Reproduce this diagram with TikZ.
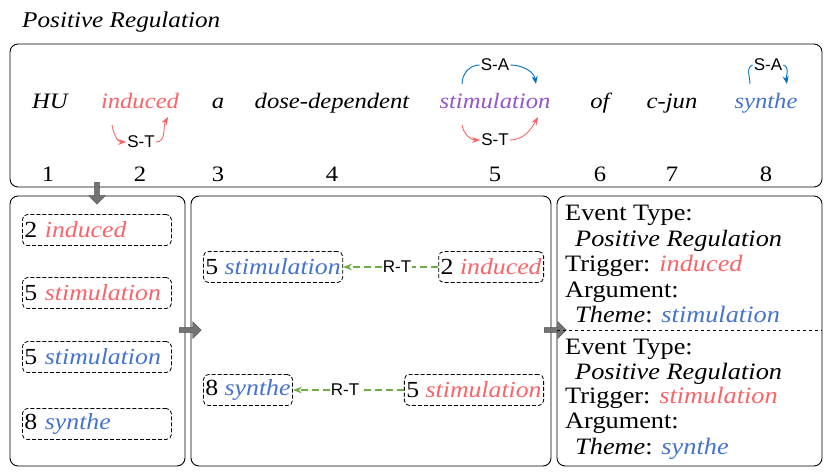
\documentclass[tikz,border=0pt]{standalone}
\usepackage{fontspec}
\setmainfont{Liberation Serif}[FakeStretch=1.12]
\newfontfamily\lblfont{Liberation Sans}
\usetikzlibrary{shapes.arrows,arrows.meta}
\definecolor{trig}{RGB}{250,100,105}
\definecolor{arg}{RGB}{70,115,205}
\definecolor{both}{RGB}{150,85,200}
\definecolor{sa}{RGB}{0,112,192}
\definecolor{rt}{RGB}{112,173,71}
\tikzset{
  panel/.style={draw, rounded corners=8pt, line width=0.9pt},
  word/.style={font=\fontsize{22}{24}\selectfont\itshape, anchor=base},
  num/.style={font=\fontsize{22}{24}\selectfont, anchor=base},
  lbl/.style={font=\lblfont\fontsize{17}{19}\selectfont, inner sep=1pt},
  tok/.style={draw, dash pattern=on 4pt off 2pt, rounded corners=5pt, minimum height=31pt,
    inner sep=2pt, line width=0.8pt, font=\fontsize{23}{26}\selectfont, anchor=west},
  info/.style={font=\fontsize{23.5}{27}\selectfont, anchor=base west, inner sep=0pt},
  blk/.style={single arrow, draw=black!70, fill=black!55, minimum height=22pt,
    minimum width=17pt, single arrow head extend=3pt, inner sep=1pt},
  st/.style={trig, line width=0.9pt, -{Stealth[length=8pt]}},
  sarr/.style={sa, line width=0.9pt, -{Stealth[length=8pt]}},
  rtline/.style={rt, dash pattern=on 7pt off 4pt, line width=1.1pt},
  rtarr/.style={rtline, -{Stealth[length=9pt]}}
}
\begin{document}
\begin{tikzpicture}[x=1pt,y=-1pt]
\useasboundingbox (0,0) rectangle (829,476);
\node[font=\fontsize{22.5}{25}\selectfont\itshape, anchor=base west, inner sep=0pt] (title) at (22,28) {Positive Regulation};
% panels
\draw[panel] (10,44) rectangle (822,187);
\draw[panel] (10,196) rectangle (185,466);
\draw[panel] (191,196) rectangle (551,466);
\draw[panel] (557,196) rectangle (822,466);
% sentence
\node[word] (w1) at (50,109) {HU};
\node[word, text=trig] (w2) at (140,109) {induced};
\node[word] (w3) at (218,109) {a};
\node[word] (w4) at (332,109) {dose-dependent};
\node[word, text=both] (w5) at (495,109) {stimulation};
\node[word] (w6) at (600,109) {of};
\node[word] (w7) at (672,109) {c-jun};
\node[word, text=arg] (w8) at (766,109) {synthe};
\foreach \i/\x in {1/48,2/140,3/218,4/332,5/495,6/600,7/672,8/766}
  \node[num] (n\i) at (\x,181) {\i};
% relations
\node[lbl] (st1) at (141,142) {S-T};
\draw[st] (112,125) to[out=-80,in=180] (st1.west);
\draw[st] (st1.east) to[out=0,in=-120] (168,117);
\node[lbl] (st2) at (495,140) {S-T};
\draw[st] (462,125) to[out=-80,in=180] (st2.west);
\draw[st] (st2.east) to[out=0,in=-120] (538,117);
\node[lbl] (sa1) at (495,65) {S-A};
\draw[sa, line width=0.9pt] (462,84) to[out=90,in=180] (sa1.west);
\draw[sarr] (sa1.east) to[out=0,in=100] (536,84);
\node[lbl] (sa2) at (768,65) {S-A};
\draw[sa, line width=0.9pt] (750,84) to[out=90,in=200] (sa2.west);
\draw[sarr] (sa2.east) to[out=-20,in=100] (787,84);
% gray block arrows
\node[blk, rotate=-90] (down) at (97,192) {};
\node[blk] (r1) at (189,330) {};
\node[blk] (r2) at (554,330) {};
% candidate tokens
\node[tok, text width=145pt, align=left] (c1) at (22,230) {2 \textit{\color{trig}induced}};
\node[tok, text width=145pt, align=left] (c2) at (22,293) {5 \textit{\color{trig}stimulation}};
\node[tok, text width=145pt, align=left] (c3) at (22,357) {5 \textit{\color{arg}stimulation}};
\node[tok, text width=145pt, align=left] (c4) at (22,424) {8 \textit{\color{arg}synthe}};
% pairs
\node[tok] (p1a) at (203,267) {5 \textit{\color{arg}stimulation}};
\node[tok, anchor=east] (p1b) at (544,267) {2 \textit{\color{trig}induced}};
\node[lbl] (rt1) at (397,267) {R-T};
\draw[rtline] (p1b.west) -- (rt1.east);
\draw[rtarr] (rt1.west) -- (p1a.east);
\node[tok] (p2a) at (203,390) {8 \textit{\color{arg}synthe}};
\node[tok, anchor=east] (p2b) at (544,390) {5 \textit{\color{trig}stimulation}};
\node[lbl] (rt2) at (345,390) {R-T};
\draw[rtline] (p2b.west) -- (rt2.east);
\draw[rtarr] (rt2.west) -- (p2a.east);
% events
\node[info] (e1) at (565,220) {Event Type:};
\node[info] (e2) at (575,246) {\textit{Positive Regulation}};
\node[info] (e3) at (565,271) {Trigger: \textit{\color{trig}induced}};
\node[info] (e4) at (565,297) {Argument:};
\node[info] (e5) at (575,322) {\textit{Theme}: \textit{\color{arg}stimulation}};
\draw[dashed, line width=0.9pt] (557,330) -- (822,330);
\node[info] (f1) at (565,354) {Event Type:};
\node[info] (f2) at (575,379) {\textit{Positive Regulation}};
\node[info] (f3) at (565,403) {Trigger: \textit{\color{trig}stimulation}};
\node[info] (f4) at (565,428) {Argument:};
\node[info] (f5) at (575,454) {\textit{Theme}: \textit{\color{arg}synthe}};
\end{tikzpicture}
\end{document}
